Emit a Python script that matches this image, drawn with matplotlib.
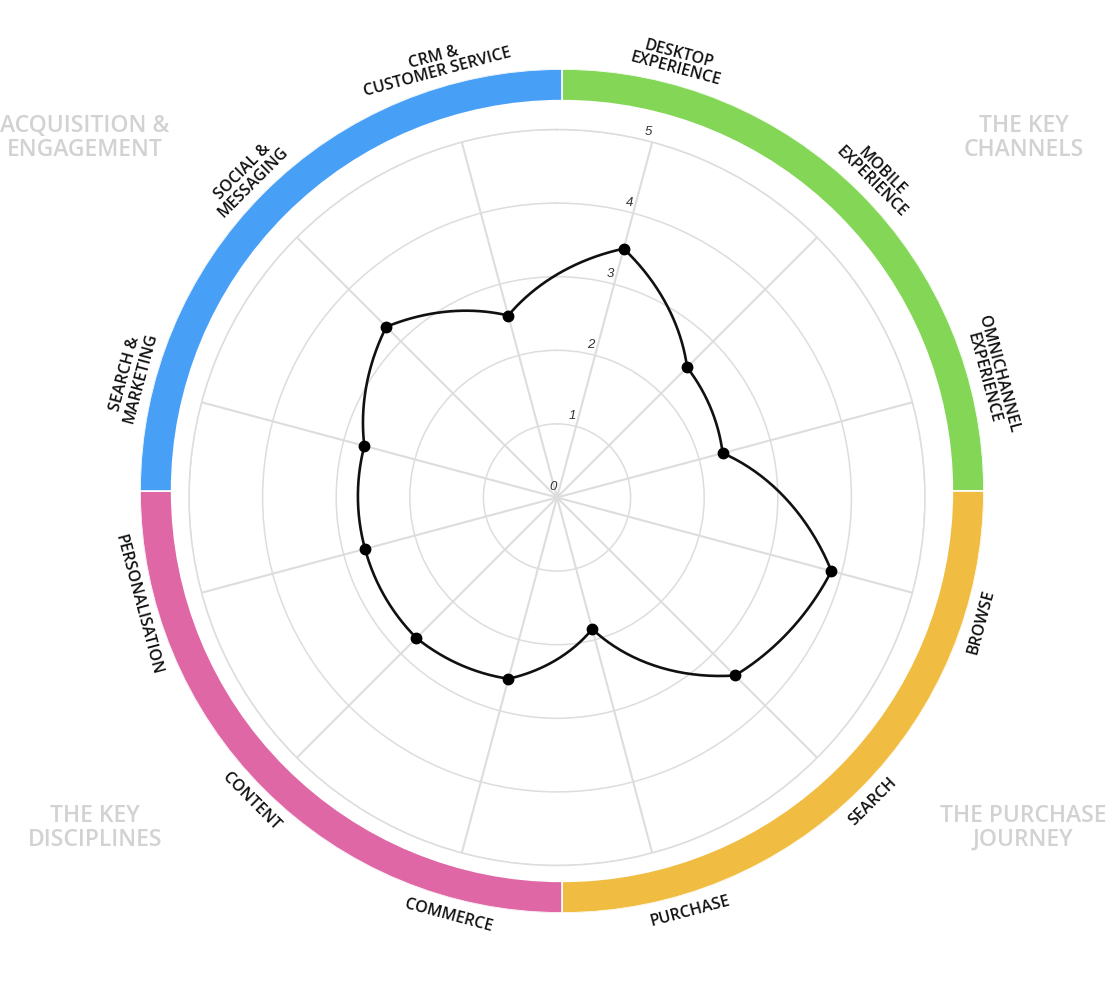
import numpy as np
import matplotlib
matplotlib.use("Agg")
import matplotlib.pyplot as plt

# ---------------- data ----------------
categories = ["DESKTOP\nEXPERIENCE", "MOBILE\nEXPERIENCE", "OMNICHANNEL\nEXPERIENCE",
              "BROWSE", "SEARCH", "PURCHASE", "COMMERCE", "CONTENT",
              "PERSONALISATION", "SEARCH &\nMARKETING", "SOCIAL &\nMESSAGING",
              "CRM &\nCUSTOMER SERVICE"]
scores = [3.5, 2.5, 2.33, 3.86, 3.42, 1.85, 2.55, 2.7, 2.7, 2.71, 3.28, 2.56]
tick_values = [0, 1, 2, 3, 4, 5]
group_names = ["THE KEY\nCHANNELS", "THE PURCHASE\nJOURNEY",
               "THE KEY\nDISCIPLINES", "ACQUISITION &\nENGAGEMENT"]
group_colors = ["#83D656", "#F0BD42", "#DF67A6", "#48A0F6"]

FONT = ["Open Sans", "DejaVu Sans"]
W, H = 1107, 981
fig = plt.figure(figsize=(W / 100, H / 100), dpi=100)


def rect(cx, cy, R):
    return [(cx - R) / W, (H - cy - R) / H, 2 * R / W, 2 * R / H]


# ---------------- ring axes ----------------
ring = fig.add_axes(rect(562, 491, 422), projection="polar")
ring.set_theta_zero_location("N")
ring.set_theta_direction(-1)
ring.set_ylim(0, 1)
ring.set_facecolor("none")
ring.axis("off")
q_centers = np.deg2rad([45, 135, 225, 315])
ring.bar(q_centers, [0.075] * 4, width=np.pi / 2, bottom=0.925,
         color=group_colors, edgecolor="white", linewidth=1.2)

n = len(categories)
angles_deg = 15 + 30 * np.arange(n)
label_nudge = {"BROWSE": 2.3, "PURCHASE": -2.0, "CRM &\nCUSTOMER SERVICE": -1.5}
for lab, t in zip(categories, angles_deg):
    if t <= 90 or t >= 270:
        rot = -t
    else:
        rot = 180 - t
    r = 1.053 if "\n" in lab else 1.041
    ring.text(np.deg2rad(t + label_nudge.get(lab, 0)), r, lab, rotation=rot,
              rotation_mode="anchor", ha="center", va="center",
              multialignment="center", fontsize=11.5, fontweight="semibold",
              family=FONT, color="#111111", linespacing=0.95, clip_on=False)

# ---------------- radar axes ----------------
ax = fig.add_axes(rect(557, 497.5, 368), projection="polar")
ax.set_theta_zero_location("N")
ax.set_theta_direction(-1)
ax.set_facecolor("none")
ax.set_ylim(0, tick_values[-1])
ax.set_xticks(np.deg2rad(angles_deg))
ax.set_yticks(tick_values[1:])
ax.set_xticklabels([])
ax.set_yticklabels([])
ax.xaxis.grid(True, color="#dddddd", linewidth=1.5)
ax.yaxis.grid(True, color="#dddddd", linewidth=1.1)
ax.spines["polar"].set_color("#dddddd")
ax.spines["polar"].set_linewidth(1.1)
ax.tick_params(length=0)

# closed line drawn straight in polar (theta, r) space between the points
th = np.deg2rad(angles_deg)
v = np.array(scores)
th_closed = np.append(th, th[0] + 2 * np.pi)
v_closed = np.append(v, v[0])
seg = np.linspace(0, 1, 60, endpoint=False)
line_th, line_r = [], []
for i in range(n):
    line_th.extend(th_closed[i] + seg * (th_closed[i + 1] - th_closed[i]))
    line_r.extend(v_closed[i] + seg * (v_closed[i + 1] - v_closed[i]))
line_th.append(th_closed[-1])
line_r.append(v_closed[-1])
ax.plot(line_th, line_r, color="#111111", linewidth=1.9, zorder=5,
        clip_on=False, solid_joinstyle="round")
ax.plot(th, v, "o", color="#000000", markersize=7.5, zorder=6, clip_on=False)

# scale labels along the first spoke
for k in tick_values:
    ax.annotate(str(k), xy=(th[0], k), xytext=(-4, 10), textcoords="offset pixels",
                ha="center", va="center", fontsize=9.5, style="italic",
                family=["Liberation Sans", "DejaVu Sans"], color="#333333", zorder=4)

# ---------------- group labels ----------------
group_pos = [(1024, 138), (1023, 828), (95, 828), (85, 138)]
for name, (gx, gy) in zip(group_names, group_pos):
    fig.text(gx / W, 1 - gy / H, name, ha="center", va="center",
             multialignment="center", fontsize=16.5, fontweight="semibold",
             family=FONT, color="#d2d2d2", linespacing=0.98)

fig.savefig("out.png", dpi=100, facecolor="white")
